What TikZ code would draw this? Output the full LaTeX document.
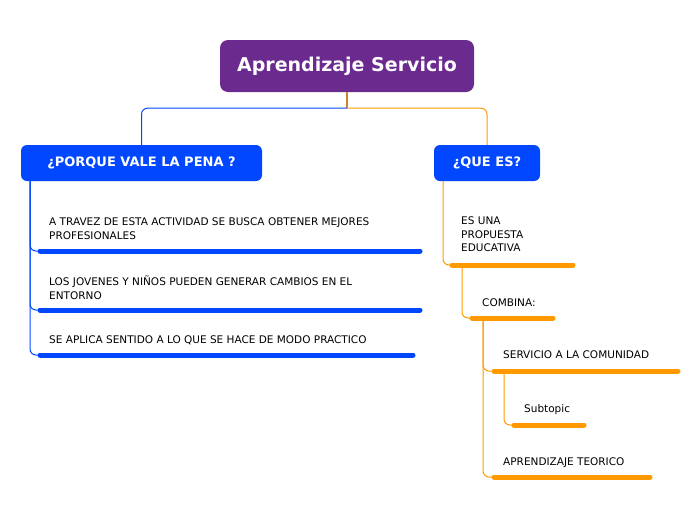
\documentclass[tikz,border=0pt]{standalone}
\usepackage{fontspec}
\setmainfont{DejaVu Sans}
\definecolor{rootc}{HTML}{6B2A8E}
\definecolor{bl}{HTML}{0047FF}
\definecolor{orc}{HTML}{FF9900}
\begin{document}
\begin{tikzpicture}[x=1pt,y=-1pt,
  topic/.style={fill=bl,rounded corners=6pt,text=white,font=\fontsize{13}{15}\selectfont\bfseries,inner sep=0pt},
  lbl/.style={anchor=north west,align=left,font=\fontsize{10.5}{13.5}\selectfont,inner sep=0pt},
  bline/.style={bl,line width=5pt,line cap=round},
  oline/.style={orc,line width=5pt,line cap=round},
  bcon/.style={bl,line width=1pt,rounded corners=6pt},
  ocon/.style={orc,line width=1pt,rounded corners=6pt}]
\useasboundingbox (0,0) rectangle (696,520);
\node[fill=rootc,rounded corners=8pt,minimum width=254pt,minimum height=52pt,text=white,font=\fontsize{19}{22}\selectfont\bfseries] (root) at (347,66) {Aprendizaje Servicio};
\node[topic,minimum width=241pt,minimum height=36pt] (l) at (141.5,163) {¿PORQUE VALE LA PENA ?};
\node[topic,minimum width=106pt,minimum height=36pt] (r) at (487,163) {¿QUE ES?};
\draw[line width=1.5pt,brown!70!orange] (root.south) -- ++(0,16) coordinate (j);
\draw[bcon] (j) -| (l.north);
\draw[ocon] (j) -| (r.north);
% left
\coordinate (b1s) at (40,251); \coordinate (b1e) at (420,251);
\coordinate (b2s) at (40,310); \coordinate (b2e) at (420,310);
\coordinate (b3s) at (40,355); \coordinate (b3e) at (413,355);
\draw[bcon] ([xshift=-111.5pt]l.south) |- (b1s);
\draw[bcon] ([xshift=-111.5pt]l.south) |- (b2s);
\draw[bcon] ([xshift=-111.5pt]l.south) |- (b3s);
\draw[bline] (b1s) -- (b1e); \draw[bline] (b2s) -- (b2e); \draw[bline] (b3s) -- (b3e);
\node[lbl] (t1) at (49,218) {A TRAVEZ DE ESTA ACTIVIDAD SE BUSCA OBTENER MEJORES\\PROFESIONALES};
\node[lbl] (t2) at (49,276) {LOS JOVENES Y NIÑOS PUEDEN GENERAR CAMBIOS EN EL\\ENTORNO};
\node[lbl] (t3) at (49,335) {SE APLICA SENTIDO A LO QUE SE HACE DE MODO PRACTICO};
% right
\coordinate (o1s) at (452,265); \coordinate (o1e) at (573,265);
\coordinate (o2s) at (472,318); \coordinate (o2e) at (553,318);
\coordinate (o3s) at (494,371); \coordinate (o3e) at (678,371);
\coordinate (o4s) at (514,425); \coordinate (o4e) at (584,425);
\coordinate (o5s) at (494,477); \coordinate (o5e) at (650,477);
\draw[ocon] ([xshift=-44pt]r.south) |- (o1s);
\draw[ocon] ([xshift=10pt]o1s) |- (o2s);
\draw[ocon] ([xshift=11pt]o2s) |- (o3s);
\draw[ocon] ([xshift=11pt]o2s) |- (o5s);
\draw[ocon] ([xshift=10pt]o3s) |- (o4s);
\foreach \a in {1,...,5} \draw[oline] (o\a s) -- (o\a e);
\node[lbl] (u1) at (461,217) {ES UNA\\PROPUESTA\\EDUCATIVA};
\node[lbl] (u2) at (482,298) {COMBINA:};
\node[lbl] (u3) at (503,350) {SERVICIO A LA COMUNIDAD};
\node[lbl] (u4) at (524,404) {Subtopic};
\node[lbl] (u5) at (503,457) {APRENDIZAJE TEORICO};
\end{tikzpicture}
\end{document}
